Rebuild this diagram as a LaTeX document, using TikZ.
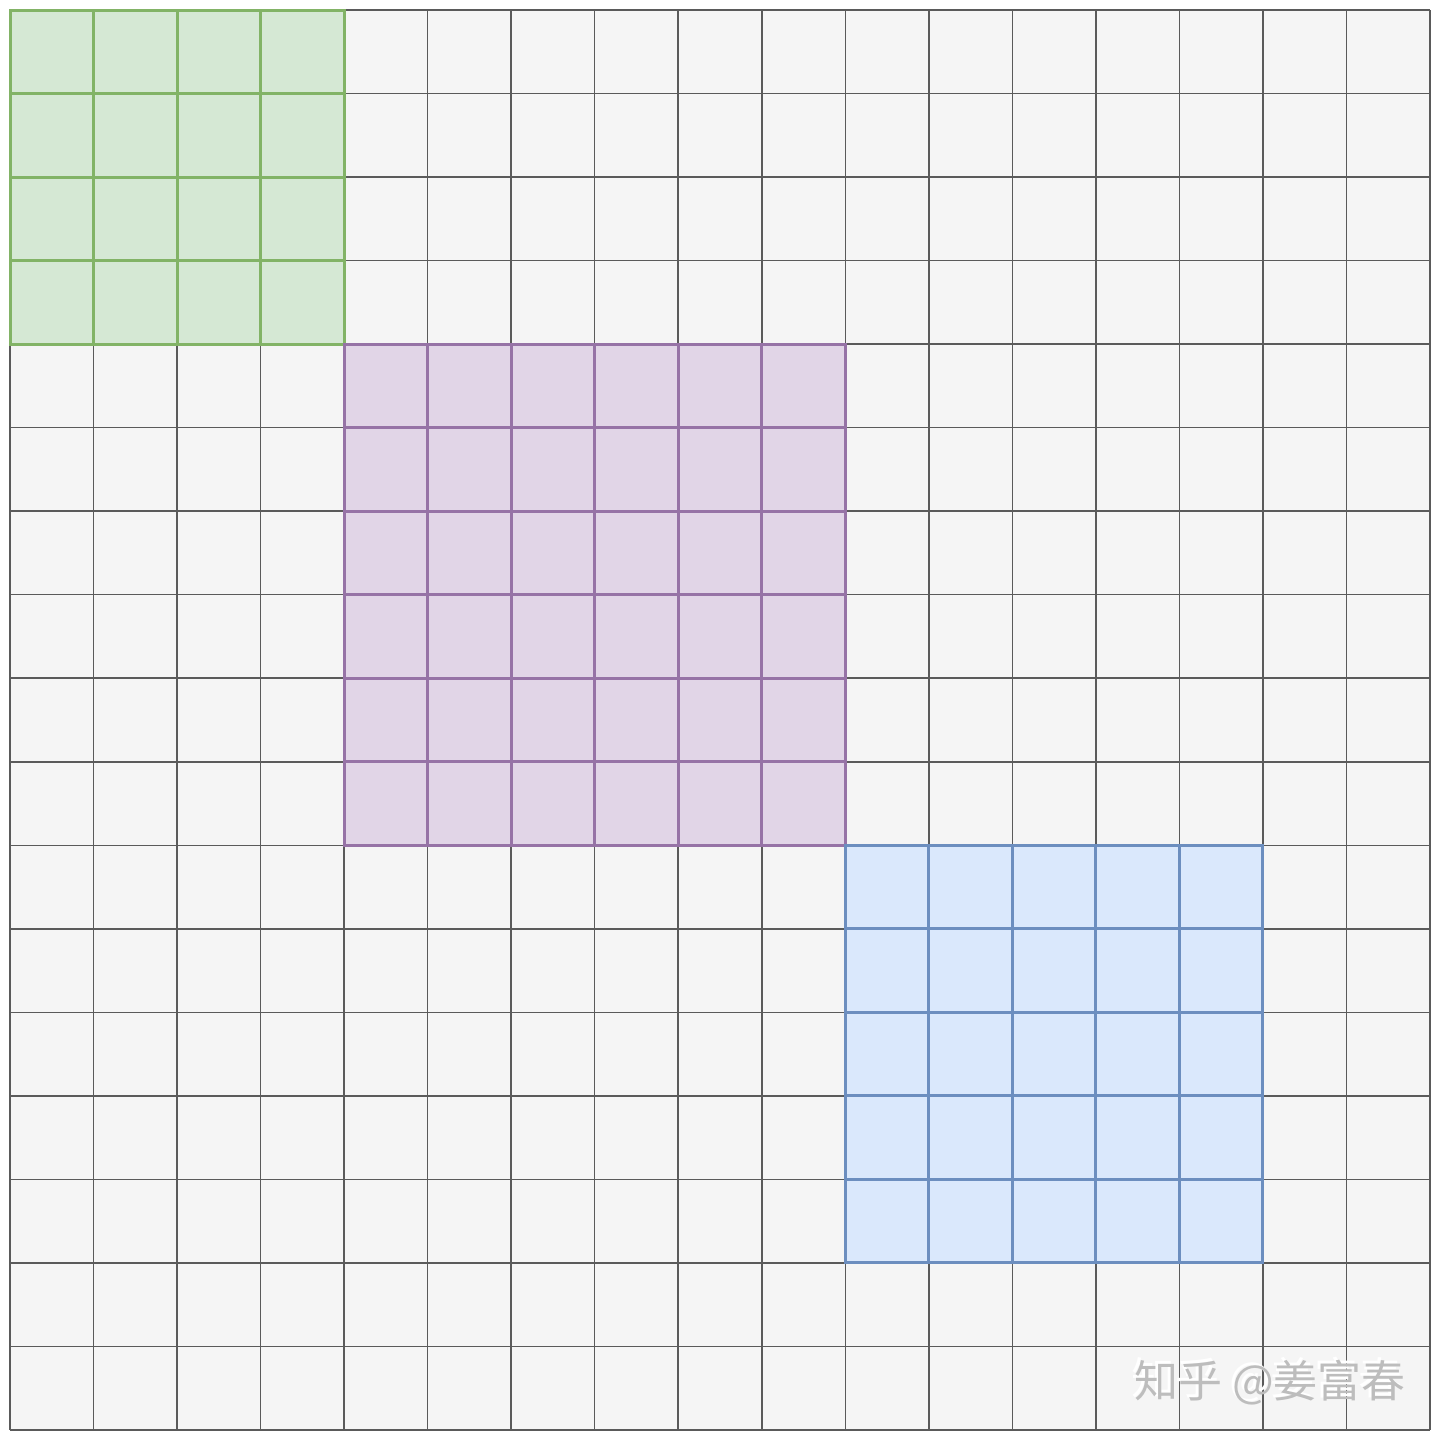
\documentclass[tikz,border=0pt]{standalone}
\usepackage{fontspec}
\newfontfamily\cjk{Noto Sans CJK SC}
\definecolor{grayfill}{HTML}{F5F5F5}
\definecolor{graystroke}{HTML}{5A5A5A}
\definecolor{gfill}{HTML}{D5E8D4}
\definecolor{gstroke}{HTML}{82B366}
\definecolor{pfill}{HTML}{E1D5E7}
\definecolor{pstroke}{HTML}{9673A6}
\definecolor{bfill}{HTML}{DAE8FC}
\definecolor{bstroke}{HTML}{6C8EBF}
\definecolor{wm}{HTML}{BDBDBD}
\tikzset{
  baseline/.style={draw=graystroke, line width=0.75pt},
  greencell/.style={fill=gfill, draw=gstroke, line width=1.5pt},
  purplecell/.style={fill=pfill, draw=pstroke, line width=1.5pt},
  bluecell/.style={fill=bfill, draw=bstroke, line width=1.5pt},
  wmark/.style={font=\cjk\fontsize{22}{22}\selectfont, text=wm, inner sep=0pt}
}
\begin{document}
\begin{tikzpicture}[x=0.5pt,y=-0.5pt]
\useasboundingbox[fill=white] (0,0) rectangle (1440,1440);
\def\cs{83.53}
\def\ox{10}
\fill[grayfill] (10,10) rectangle (1430,1430);
\foreach \i in {0,...,17}{
  \draw[baseline] ({\ox+\i*\cs},10) -- ({\ox+\i*\cs},1430);
  \draw[baseline] (10,{\ox+\i*\cs}) -- (1430,{\ox+\i*\cs});
}
\foreach \i in {0,...,3}{
  \foreach \j in {0,...,3}{
    \draw[greencell] ({\ox+\i*\cs},{\ox+\j*\cs}) rectangle +(\cs,\cs);
  }
}
\foreach \i in {4,...,9}{
  \foreach \j in {4,...,9}{
    \draw[purplecell] ({\ox+\i*\cs},{\ox+\j*\cs}) rectangle +(\cs,\cs);
  }
}
\foreach \i in {10,...,14}{
  \foreach \j in {10,...,14}{
    \draw[bluecell] ({\ox+\i*\cs},{\ox+\j*\cs}) rectangle +(\cs,\cs);
  }
}
\node[wmark, text=white] (wmshadow) at (1267,1380) {知乎 @姜富春};
\node[wmark] (wmtext) at (1270,1383) {知乎 @姜富春};
\end{tikzpicture}
\end{document}
